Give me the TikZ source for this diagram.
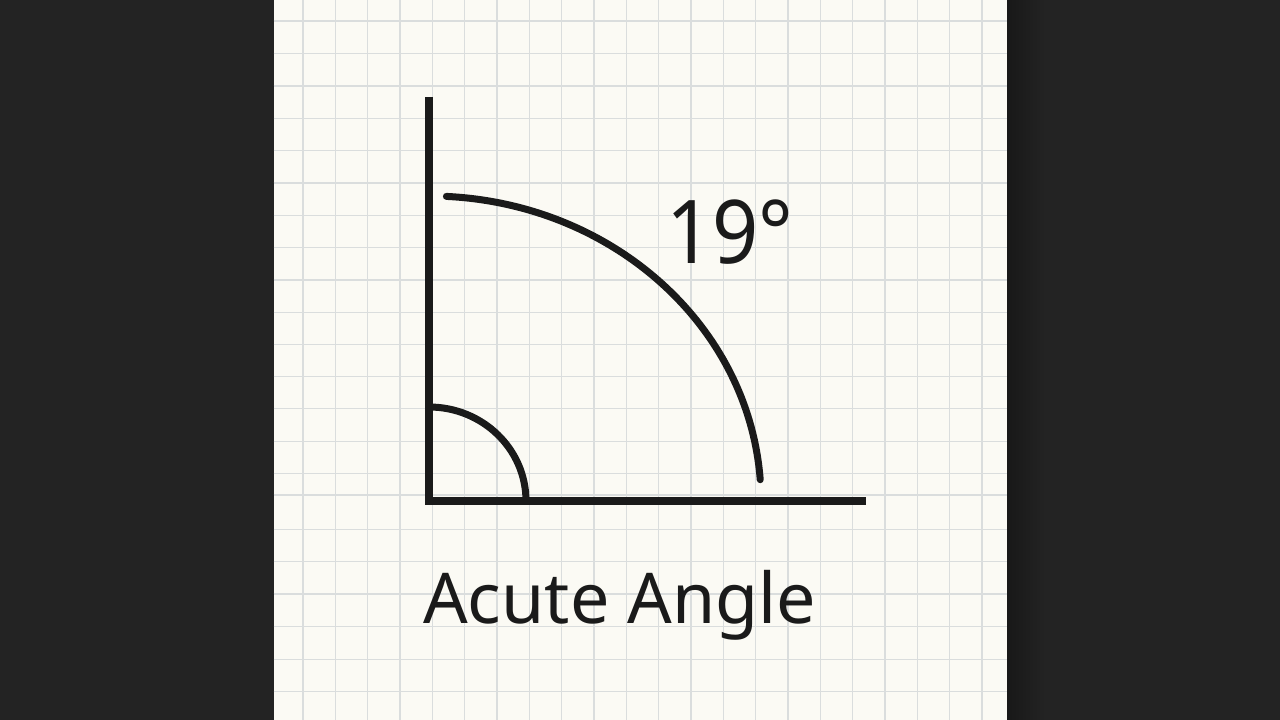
\documentclass[tikz,border=0pt]{standalone}
\usepackage{fontspec}
\setmainfont{Noto Sans}
\definecolor{bgdark}{HTML}{232323}
\definecolor{bgshadow}{HTML}{181818}
\definecolor{paper}{HTML}{FBFAF4}
\definecolor{gridc}{HTML}{DADDDD}
\definecolor{ink}{HTML}{1A1A1A}
\begin{document}
\begin{tikzpicture}[x=1pt,y=-1pt,
  gridline/.style={gridc, line width=1.4pt},
  stroke/.style={ink, line width=7pt},
  lbl/.style={inner sep=0pt, anchor=base west, text=ink}]
\useasboundingbox (0,0) rectangle (1280,720);
\fill[bgdark] (0,0) rectangle (1280,720);
\shade[left color=bgshadow, right color=bgdark] (1006.5,0) rectangle (1045,720);
\fill[paper] (273.5,0) rectangle (1006.5,720);
\foreach \k in {0,...,21} \draw[gridline] ({303+32.33*\k},0) -- ++(0,720);
\foreach \y in {21,53.5,86,118.3,150.7,183,215.3,247.7,280,312.3,344.5,376.7,408.7,441.3,473.5,495,529.3,561.7,594,626.7,659.3,691.7}
  \draw[gridline] (273.5,\y) -- (1006.5,\y);
% axes
\draw[stroke, line width=7.5pt, line join=miter] (429,97) coordinate (top) -- (429,501) coordinate (vertex) -- (865.7,501) coordinate (rightend);
% arcs
\draw[stroke, line cap=round] (446.4,196.4) coordinate (bigstart) arc[start angle=87, end angle=4, x radius=332pt, y radius=305pt];
\draw[stroke] (429,407) coordinate (smallstart) arc[start angle=90, end angle=0, x radius=97pt, y radius=94pt];
% labels
\node[lbl, xscale=0.92, font=\fontsize{88}{88}\selectfont] (deg) at (666,263.3) {19°};
\node[lbl, font=\fontsize{70}{70}\selectfont] (title) at (423,623.3) {Acute Angle};
\end{tikzpicture}
\end{document}
